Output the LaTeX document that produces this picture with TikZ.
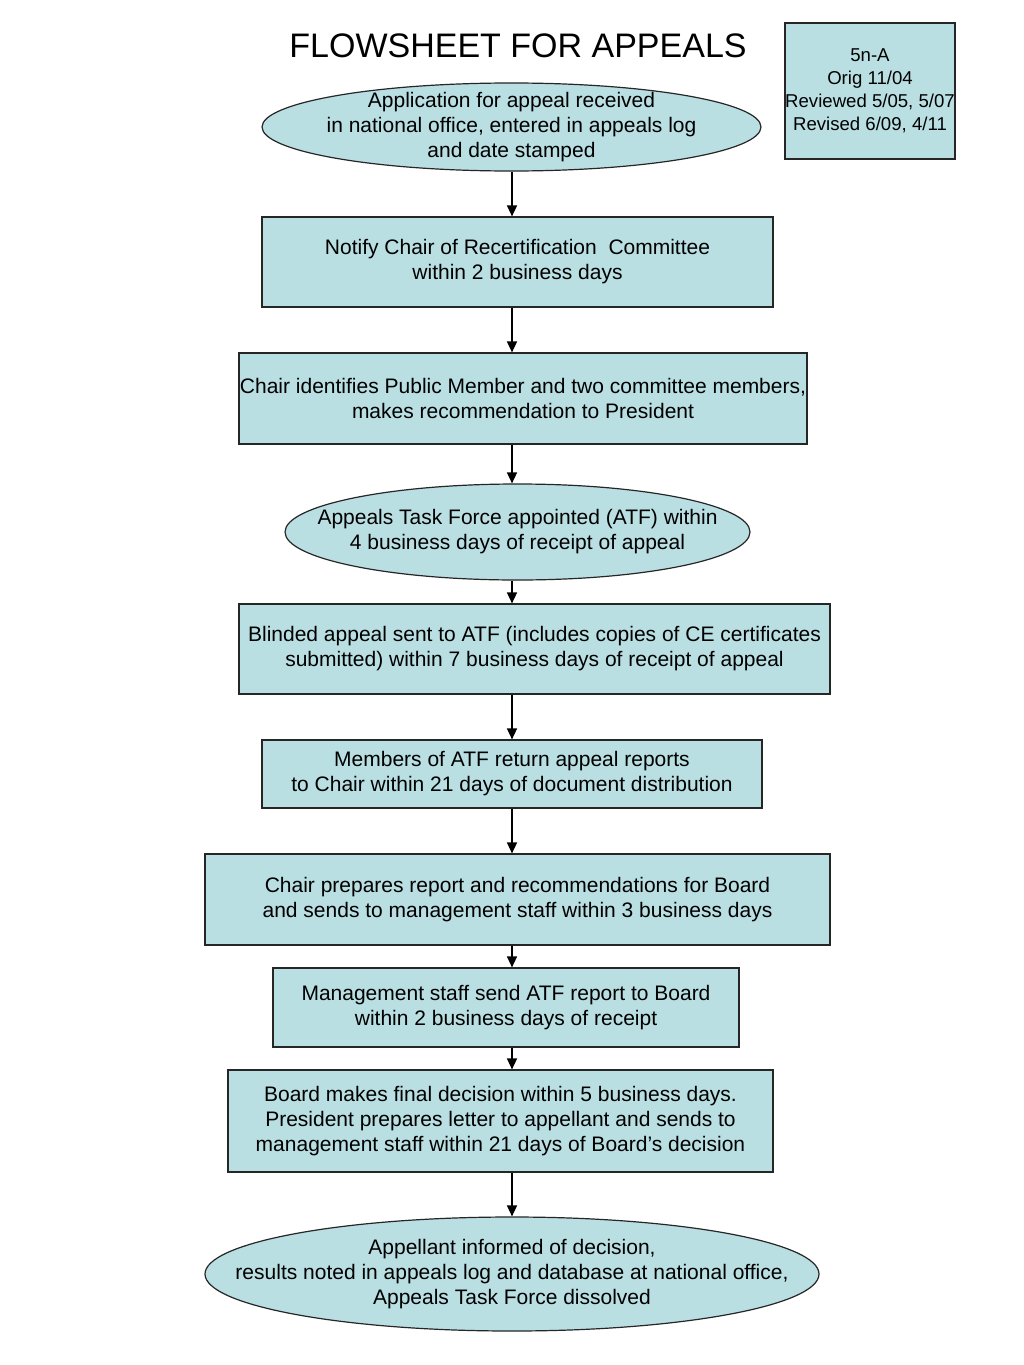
\documentclass[tikz,border=0pt]{standalone}
\usepackage{fontspec}
\setmainfont{Liberation Sans}
\usetikzlibrary{shapes.geometric,arrows.meta}
\definecolor{boxfill}{RGB}{185,223,227}
\begin{document}
\begin{tikzpicture}[x=1pt,y=-1pt,
  every node/.style={font=\fontsize{21}{25}\selectfont, align=center, text=black},
  stepbox/.style={rectangle, draw=black!85, line width=1.2pt, fill=boxfill, inner sep=0pt},
  stepoval/.style={ellipse, draw=black!85, line width=1.2pt, fill=boxfill, inner xsep=-80pt, inner ysep=-15pt},
  flow/.style={line width=1.5pt, -{Triangle[length=11pt,width=10pt]}}]
\useasboundingbox (0,0) rectangle (1024,1365);
\fill[white] (0,0) rectangle (1024,1365);
\coordinate (axis) at (512,0);

\node[font=\fontsize{34}{40}\selectfont] (title) at (518,46) {FLOWSHEET FOR APPEALS};
\node[stepbox, minimum width=170pt, minimum height=136pt, font=\fontsize{18.6}{23}\selectfont] (info) at (870,91) {5n-A\\ Orig 11/04\\Reviewed 5/05, 5/07\\ Revised 6/09, 4/11};

\node[stepoval, minimum width=499pt, minimum height=88pt] (n1) at (511.5,127) {Application for appeal received\\ in national office, entered in appeals log\\and date stamped};
\node[stepbox, minimum width=511pt, minimum height=90pt] (n2) at (517.5,262) {Notify Chair of Recertification\ \ Committee\\within 2 business days};
\node[stepbox, minimum width=568pt, minimum height=91pt] (n3) at (523,398.5) {Chair identifies Public Member and two committee members,\\makes recommendation to President};
\node[stepoval, minimum width=465pt, minimum height=96pt] (n4) at (517.5,532) {Appeals Task Force appointed (ATF) within\\ 4 business days of receipt of appeal};
\node[stepbox, minimum width=591pt, minimum height=90pt] (n5) at (534.5,649) {Blinded appeal sent to ATF (includes copies of CE certificates\\submitted) within 7 business days of receipt of appeal};
\node[stepbox, minimum width=500pt, minimum height=68pt] (n6) at (512,774) {Members of ATF return appeal reports\\to Chair within 21 days of document distribution};
\node[stepbox, minimum width=625pt, minimum height=91pt] (n7) at (517.5,899.5) {Chair prepares report and recommendations for Board\\ and sends to management staff within 3 business days};
\node[stepbox, minimum width=466pt, minimum height=79pt] (n8) at (506,1007.5) {Management staff send ATF report to Board\\within 2 business days of receipt};
\node[stepbox, minimum width=545pt, minimum height=102pt] (n9) at (500.5,1121) {Board makes final decision within 5 business days.\\President prepares letter to appellant and sends to\\management staff within 21 days of Board's decision};
\node[stepoval, minimum width=614pt, minimum height=114pt] (n10) at (512,1274) {Appellant informed of decision,\\results noted in appeals log and database at national office,\\Appeals Task Force dissolved};

\draw[flow] (n1.south -| axis) -- (n2.north -| axis);
\draw[flow] (n2.south -| axis) -- (n3.north -| axis);
\draw[flow] (n3.south -| axis) -- (n4.north -| axis);
\draw[flow] (n4.south -| axis) -- (n5.north -| axis);
\draw[flow] (n5.south -| axis) -- (n6.north -| axis);
\draw[flow] (n6.south -| axis) -- (n7.north -| axis);
\draw[flow] (n7.south -| axis) -- (n8.north -| axis);
\draw[flow] (n8.south -| axis) -- (n9.north -| axis);
\draw[flow] (n9.south -| axis) -- (n10.north -| axis);
\end{tikzpicture}
\end{document}
